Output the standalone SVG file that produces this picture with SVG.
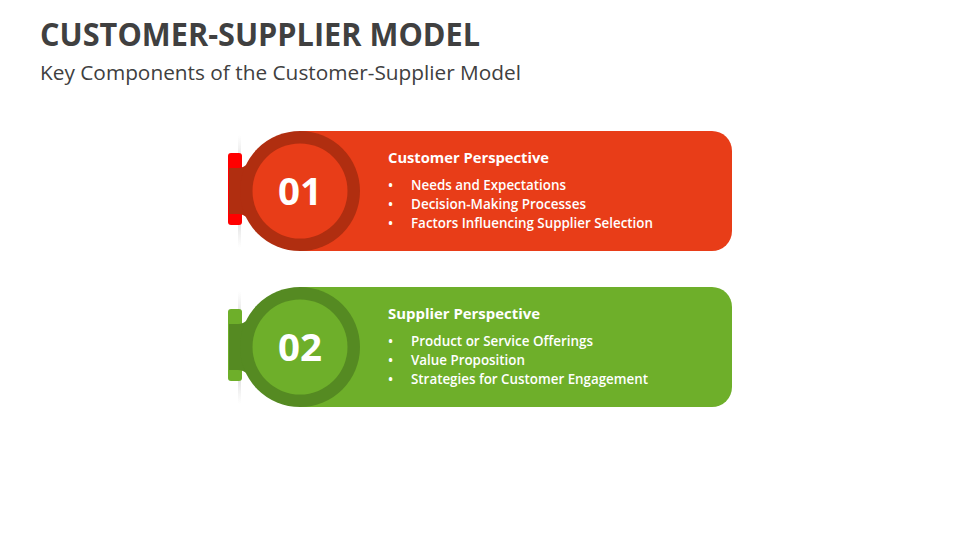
<svg xmlns="http://www.w3.org/2000/svg" width="960" height="540" viewBox="0 0 960 540">
<defs>
<linearGradient id="sh" x1="0" y1="0" x2="0" y2="1">
<stop offset="0" stop-color="#bbb" stop-opacity="0"/>
<stop offset="0.5" stop-color="#999" stop-opacity="0.8"/>
<stop offset="1" stop-color="#bbb" stop-opacity="0"/>
</linearGradient>
<style>
.t{font-family:"Open Sans","Noto Sans","Liberation Sans",sans-serif;fill:#404040}
.w{font-family:"Open Sans","Noto Sans","Liberation Sans",sans-serif;fill:#fff}
.h{font-size:15px;font-weight:700}
.b{font-size:13.5px;font-weight:600}
.n{font-size:38px;font-weight:700}
</style>
</defs>
<rect width="960" height="540" fill="#fff"/>
<text class="t" x="40" y="46" font-size="32" font-weight="700" textLength="440" lengthAdjust="spacingAndGlyphs">CUSTOMER-SUPPLIER MODEL</text>
<text class="t" x="40" y="80" font-size="20" textLength="481" lengthAdjust="spacingAndGlyphs">Key Components of the Customer-Supplier Model</text>

<g id="node-customer">
<rect x="238" y="135" width="3" height="113" fill="url(#sh)"/>
<path d="M300 131 H712 A20 20 0 0 1 732 151 V231 A20 20 0 0 1 712 251 H300 Z" fill="#E83D18"/>
<rect x="228" y="153" width="14" height="72" rx="3" fill="#FF0000"/>
<path d="M229 168 H238 C246 168 251 161 256 150 V232 C251 221 246 214 238 214 H229 Z" fill="#B02E10"/>
<circle cx="300" cy="191" r="60" fill="#B02E10"/>
<circle cx="300" cy="191" r="47.5" fill="#E83D18"/>
<text class="w n" x="300" y="205" text-anchor="middle" textLength="44" lengthAdjust="spacingAndGlyphs">01</text>
<text class="w h" x="388" y="163" textLength="161" lengthAdjust="spacingAndGlyphs">Customer Perspective</text>
<text class="w b" x="388" y="190">•</text>
<text class="w b" x="388" y="209">•</text>
<text class="w b" x="388" y="228">•</text>
<text class="w b" x="411" y="190" textLength="155" lengthAdjust="spacingAndGlyphs">Needs and Expectations</text>
<text class="w b" x="411" y="209" textLength="175" lengthAdjust="spacingAndGlyphs">Decision-Making Processes</text>
<text class="w b" x="411" y="228" textLength="242" lengthAdjust="spacingAndGlyphs">Factors Influencing Supplier Selection</text>
</g>

<g id="node-supplier">
<rect x="238" y="291" width="3" height="113" fill="url(#sh)"/>
<path d="M300 287 H712 A20 20 0 0 1 732 307 V387 A20 20 0 0 1 712 407 H300 Z" fill="#6EAF2A"/>
<rect x="228" y="309" width="14" height="72" rx="3" fill="#6EAF2A"/>
<path d="M229 324 H238 C246 324 251 317 256 306 V388 C251 377 246 370 238 370 H229 Z" fill="#558A22"/>
<circle cx="300" cy="347" r="60" fill="#558A22"/>
<circle cx="300" cy="347" r="47.5" fill="#6EAF2A"/>
<text class="w n" x="300" y="361" text-anchor="middle" textLength="44" lengthAdjust="spacingAndGlyphs">02</text>
<text class="w h" x="388" y="319" textLength="152" lengthAdjust="spacingAndGlyphs">Supplier Perspective</text>
<text class="w b" x="388" y="346">•</text>
<text class="w b" x="388" y="365">•</text>
<text class="w b" x="388" y="384">•</text>
<text class="w b" x="411" y="346" textLength="182" lengthAdjust="spacingAndGlyphs">Product or Service Offerings</text>
<text class="w b" x="411" y="365" textLength="114" lengthAdjust="spacingAndGlyphs">Value Proposition</text>
<text class="w b" x="411" y="384" textLength="237" lengthAdjust="spacingAndGlyphs">Strategies for Customer Engagement</text>
</g>

<g id="connectors"></g>
</svg>
